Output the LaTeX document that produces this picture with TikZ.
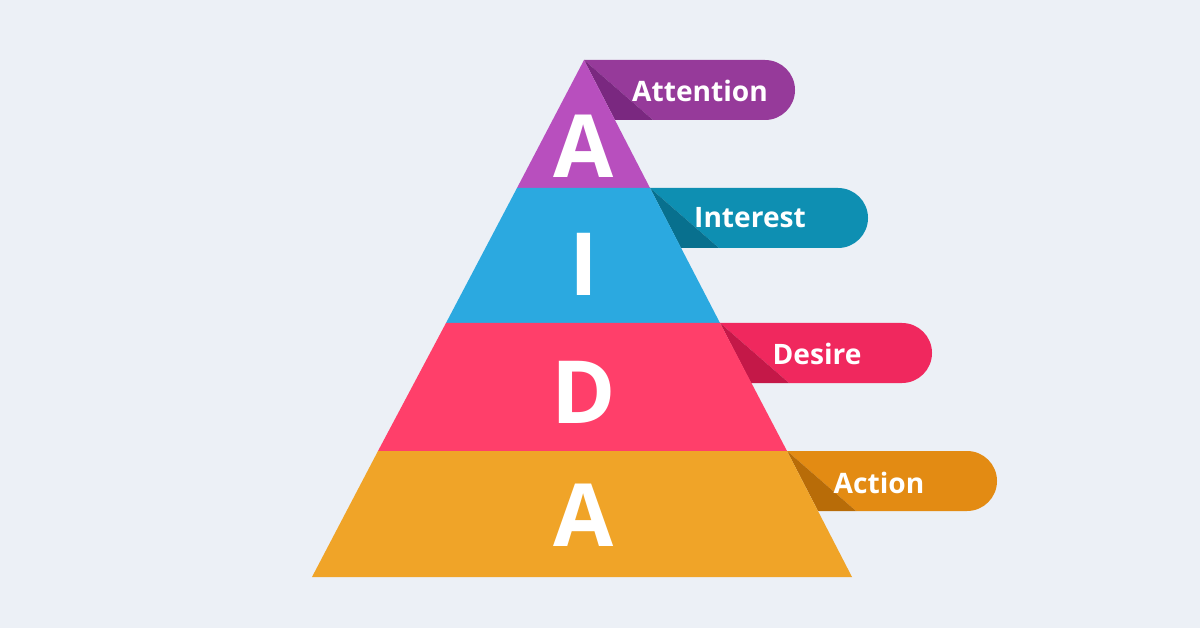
\documentclass[tikz,border=0pt]{standalone}
\usepackage{fontspec}
\setmainfont{Open Sans}
\usetikzlibrary{positioning}
\definecolor{bgcol}{HTML}{ECF0F6}
\definecolor{attA}{HTML}{B84FBE}\definecolor{attB}{HTML}{963A9A}\definecolor{attC}{HTML}{7A2880}
\definecolor{intA}{HTML}{2BA9E0}\definecolor{intB}{HTML}{0E8FB2}\definecolor{intC}{HTML}{08708E}
\definecolor{desA}{HTML}{FF3F6A}\definecolor{desB}{HTML}{F0285E}\definecolor{desC}{HTML}{C41848}
\definecolor{actA}{HTML}{F0A428}\definecolor{actB}{HTML}{E38B13}\definecolor{actC}{HTML}{B86C08}
\begin{document}
\begin{tikzpicture}[x=0.025cm,y=-0.025cm]
  \tikzset{letter/.style={text=white,font=\fontsize{62}{62}\selectfont\bfseries,inner sep=0pt},
           tablabel/.style={text=white,font=\fontsize{20}{20}\selectfont\bfseries,inner sep=0pt}}
  \fill[bgcol] (0,0) rectangle (1200,628);
  % tabs: top y, right end x, edge x at top, edge x at bottom, colours
  \foreach \ty/\tx/\ea/\eb/\cb/\cc in {60/795/584/615/attB/attC, 188/868/650/681/intB/intC,
                                       323/932/720/751/desB/desC, 451/997/787/818/actB/actC}{
    \fill[\cb] (\ea,\ty) -- (\tx-30,\ty) arc[start angle=-90,end angle=90,radius=30]
      -- (\eb+38,\ty+60) -- cycle;
    \fill[\cc] (\ea,\ty) -- (\eb+38,\ty+60) -- (\eb,\ty+60) -- cycle;
  }
  % pyramid bands
  \fill[attA] (584,60) -- (650,188) -- (517,188) -- cycle;
  \fill[intA] (517,188) -- (650,188) -- (720,323) -- (446,323) -- cycle;
  \fill[desA] (446,323) -- (720,323) -- (787,451) -- (378,451) -- cycle;
  \fill[actA] (378,451) -- (787,451) -- (852,577) -- (312,577) -- cycle;

  \node[letter] (la) at (584,146) {A};
  \node[letter] (li) at (584,264) {I};
  \node[letter] (ld) at (584,392) {D};
  \node[letter] (lb) at (584,515) {A};

  \node[tablabel] (attention) at (700,91) {Attention};
  \node[tablabel] (interest) at (750,218) {Interest};
  \node[tablabel] (desire) at (817,354) {Desire};
  \node[tablabel] (action) at (879,483) {Action};
\end{tikzpicture}
\end{document}
